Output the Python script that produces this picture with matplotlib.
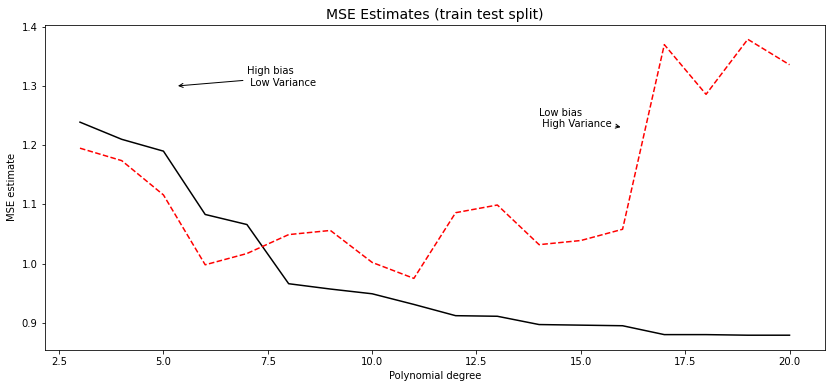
import matplotlib.pyplot as plt

degrees = list(range(3, 21))
mse_black = [1.239, 1.210, 1.190, 1.083, 1.066, 0.966, 0.957, 0.949, 0.931,
             0.912, 0.911, 0.897, 0.896, 0.895, 0.880, 0.880, 0.879, 0.879]
mse_red = [1.195, 1.174, 1.116, 0.998, 1.017, 1.049, 1.056, 1.002, 0.975,
           1.086, 1.099, 1.032, 1.039, 1.058, 1.370, 1.286, 1.379, 1.336]

fig = plt.figure(figsize=(832/72, 388/72), dpi=72)
ax = fig.add_axes([44.5/832, 1-350/388, (825-44.5)/832, (350-24.5)/388])
ax.plot(degrees, mse_black, 'k-')
ax.plot(degrees, mse_red, 'r--')
ax.annotate('High bias\n Low Variance', xy=(5.3, 1.3), xytext=(7, 1.3),
            arrowprops=dict(arrowstyle='->'))
ax.annotate('Low bias\n High Variance', xy=(16, 1.23), xytext=(14, 1.23),
            arrowprops=dict(arrowstyle='->'))
ax.set_xlabel('Polynomial degree')
ax.set_ylabel('MSE estimate')
ax.set_title('MSE Estimates (train test split)', fontsize=14)
fig.savefig('out.png', dpi=72)
